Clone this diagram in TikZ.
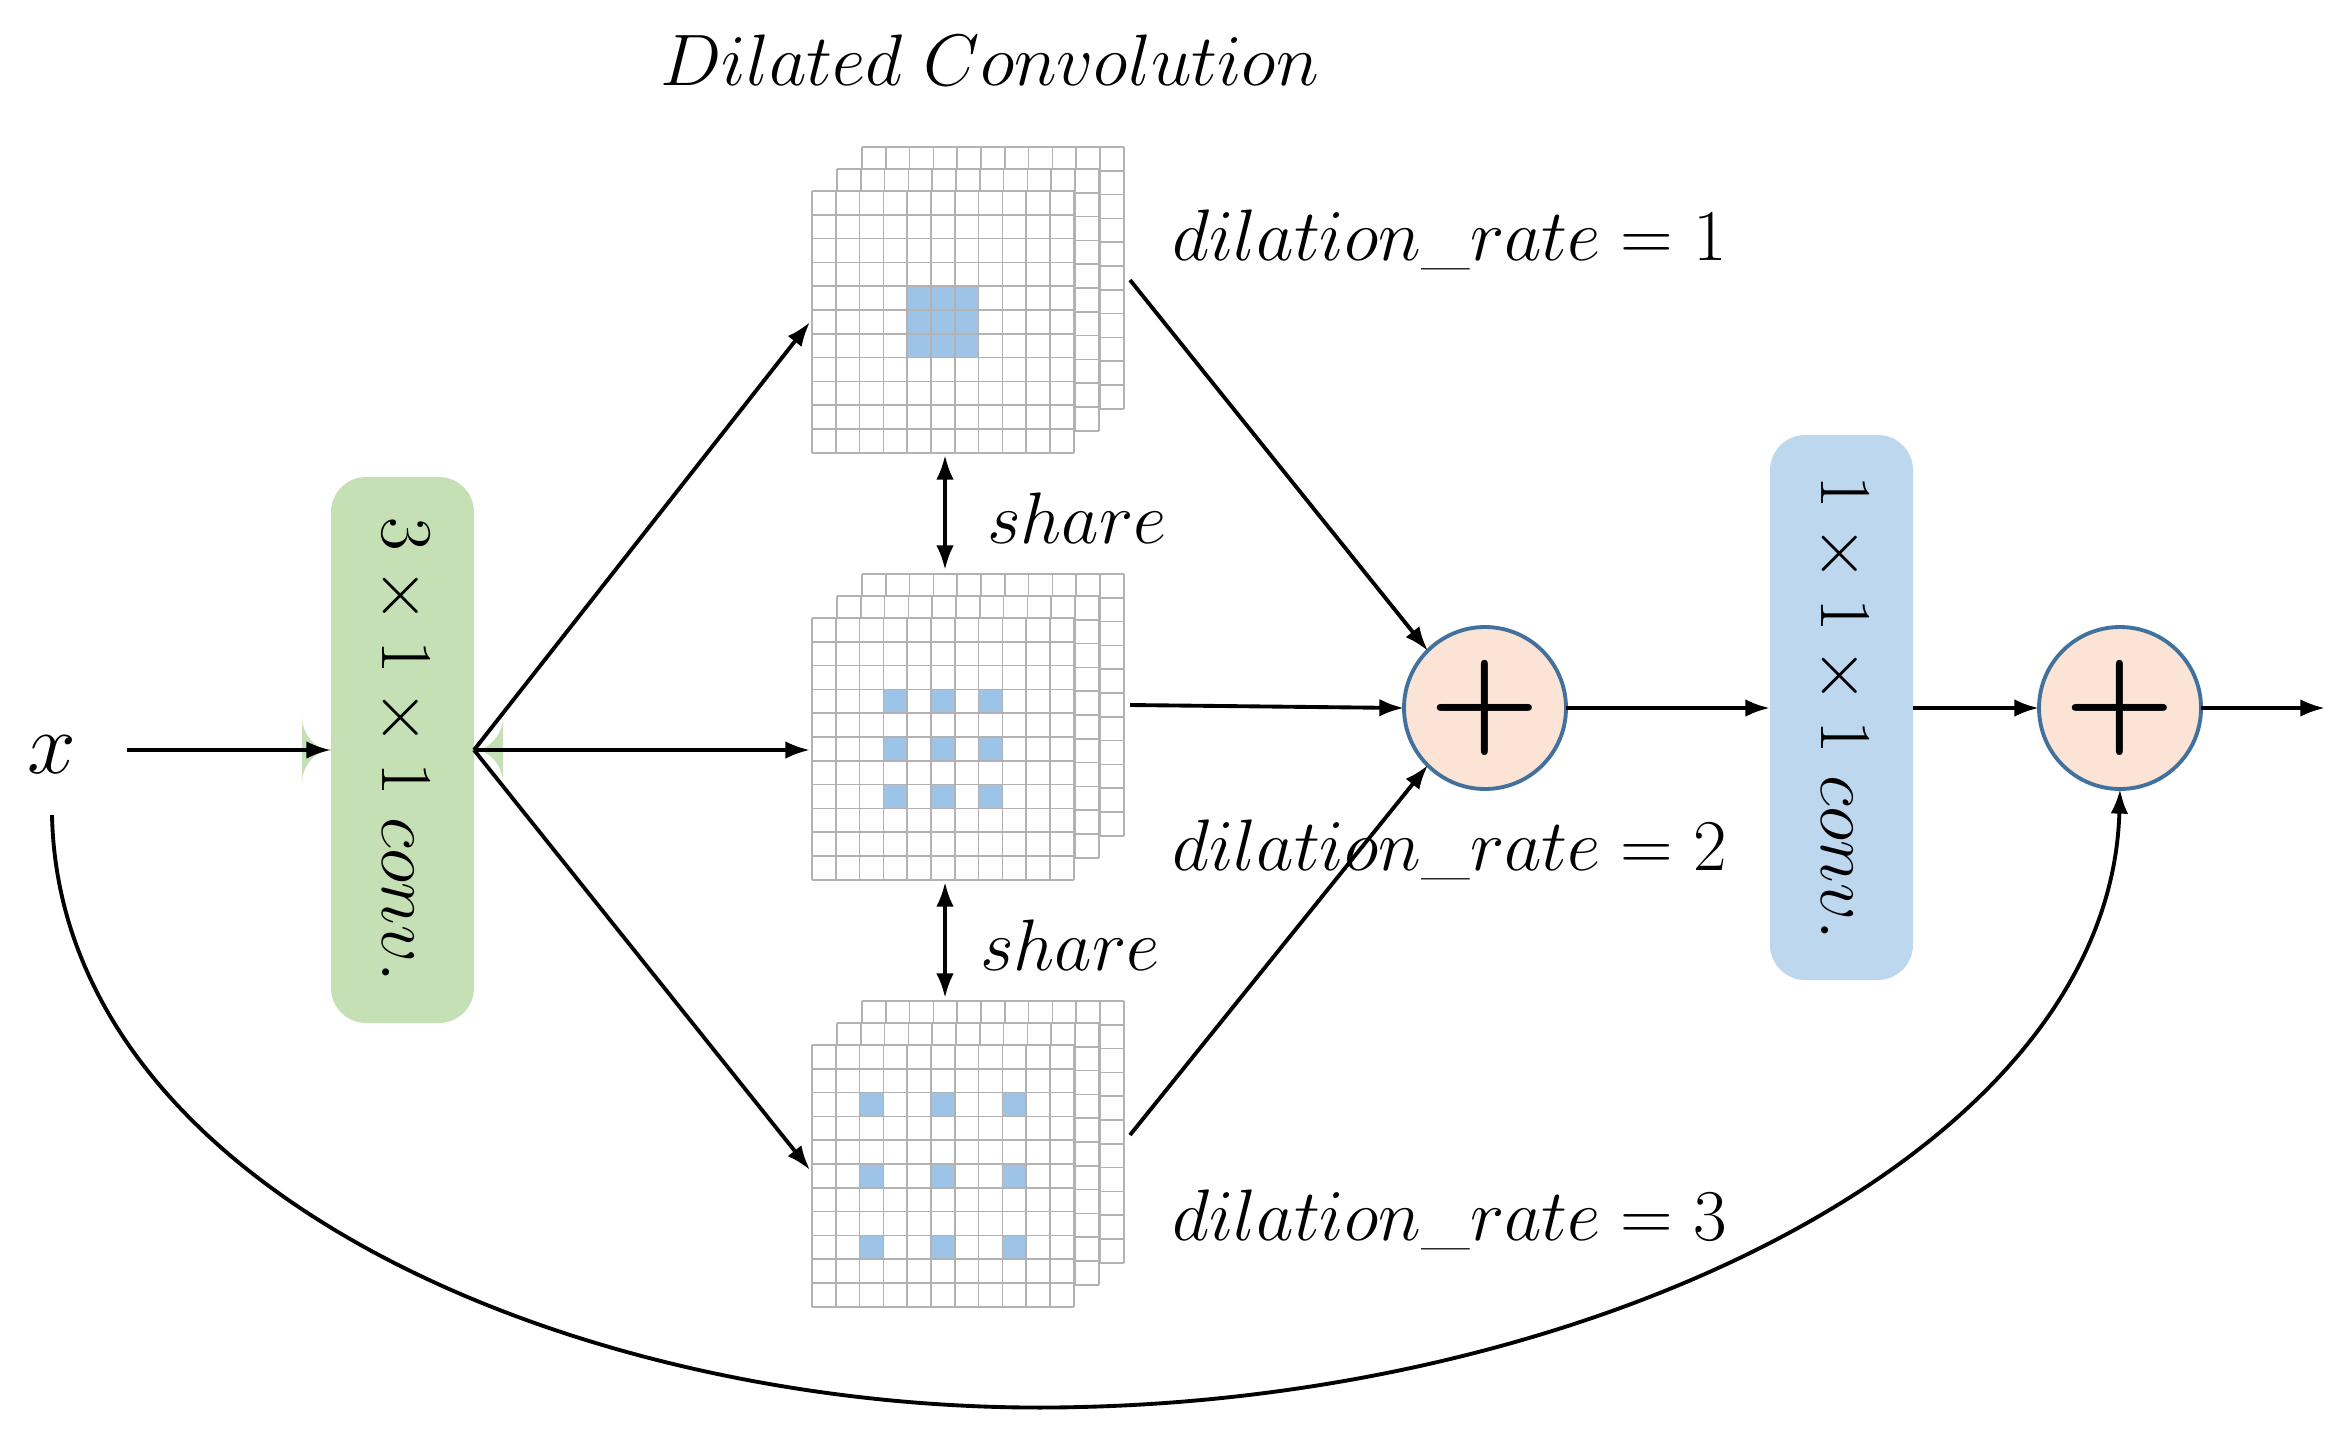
\documentclass[tikz,border=0pt]{standalone}
\usetikzlibrary{arrows.meta}
\begin{document}
\begin{tikzpicture}[x=0.01cm,y=-0.01cm,
  font=\fontsize{20}{24}\selectfont,
  arr/.style={-{Latex[length=7pt,width=5pt]},line width=1.1pt},
  cell/.style={draw=black!30,line width=0.45pt},
  blue/.style={fill=blue!40!cyan!25!white, fill=bluecell},
  circ/.style={circle,draw=circleborder,line width=1.1pt,fill=circlefill,minimum size=162\pgflinewidth}]
\definecolor{bluecell}{HTML}{9DC3E6}
\definecolor{circlefill}{HTML}{FBE3D6}
\definecolor{circleborder}{HTML}{41719C}
\definecolor{greenbox}{HTML}{C5E0B4}
\definecolor{bluebox}{HTML}{BDD7EE}
\useasboundingbox (0,0) rectangle (2343,1430);
\def\cs{23.8}
% grid stack: #1 x, #2 y, #3 list of blue cells c/r
\newcommand\gridstack[3]{%
  \foreach \k in {2,1,0}{%
    \begin{scope}[shift={(#1+25*\k,#2-22*\k)}]
      \fill[white] (0,0) rectangle (11*\cs,11*\cs);
      \ifnum\k=0 \foreach \c/\r in {#3}{\fill[bluecell] (\c*\cs,\r*\cs) rectangle ++(\cs,\cs);}\fi
      \foreach \i in {0,...,11}{\draw[cell] (\i*\cs,0) -- (\i*\cs,11*\cs); \draw[cell] (0,\i*\cs) -- (11*\cs,\i*\cs);}
    \end{scope}}}
\gridstack{812}{191}{4/4,5/4,6/4,4/5,5/5,6/5,4/6,5/6,6/6}
\gridstack{812}{618}{3/3,5/3,7/3,3/5,5/5,7/5,3/7,5/7,7/7}
\gridstack{812}{1045}{2/2,5/2,8/2,2/5,5/5,8/5,2/8,5/8,8/8}
\coordinate (g1in) at (810,322); \coordinate (g2in) at (810,750); \coordinate (g3in) at (810,1170);
\coordinate (g1out) at (1130,280); \coordinate (g2out) at (1130,705); \coordinate (g3out) at (1130,1135);
\coordinate (s1a) at (945,455); \coordinate (s1b) at (945,570);
\coordinate (s2a) at (945,882); \coordinate (s2b) at (945,998);

\node (title) at (990,60) {$Dilated\ Convolution$};
\node[anchor=west] (d1) at (1160,240) {$dilation\_rate = 1$};
\node[anchor=west] (d2) at (1160,850) {$dilation\_rate = 2$};
\node[anchor=west] (d3) at (1160,1220) {$dilation\_rate = 3$};
\node (sh1) at (1077,518) {$share$};
\node (sh2) at (1070,945) {$share$};
\node (x) at (52,755) {\fontsize{30}{34}\selectfont$x$};
\coordinate (xin) at (127,750);
\coordinate (xbot) at (52,815);
\coordinate (out) at (2325,708);

\node[fill=greenbox,rounded corners=10pt,minimum width=143\pgflinewidth,inner sep=0] (conv1) at (402.5,750) {};
\fill[greenbox,rounded corners=10pt] (331,477) rectangle (474,1023);
\node[rotate=-90] at (402.5,750) {$3\times1\times1\ conv.$};
\coordinate (c1w) at (331,750); \coordinate (c1e) at (474,750);
\fill[bluebox,rounded corners=10pt] (1770,435) rectangle (1913,980);
\node[rotate=-90] (conv2) at (1841.5,708) {$1\times1\times1\ conv.$};
\coordinate (c2w) at (1770,708); \coordinate (c2e) at (1913,708);

\node[circle,draw=circleborder,line width=1.1pt,fill=circlefill,minimum size=4.6cm*0.0354*1,inner sep=0] (p1) at (1485,708) {};
\draw[circleborder,line width=1.1pt,fill=circlefill] (1485,708) circle[radius=81];
\node (p1t) at (1485,708) {\fontsize{36}{40}\selectfont\textbf{+}};
\draw[circleborder,line width=1.1pt,fill=circlefill] (2120,708) circle[radius=81];
\node (p2t) at (2120,708) {\fontsize{36}{40}\selectfont\textbf{+}};
\coordinate (p1w) at (1404,708); \coordinate (p1e) at (1566,708);
\coordinate (p1nw) at (1428,651); \coordinate (p1sw) at (1428,765);
\coordinate (p2w) at (2039,708); \coordinate (p2e) at (2201,708); \coordinate (p2s) at (2120,789);

\draw[arr] (xin) -- (c1w);
\draw[arr] (c1e) -- (g1in);
\draw[arr] (c1e) -- (g2in);
\draw[arr] (c1e) -- (g3in);
\draw[arr] (g1out) -- (p1nw);
\draw[arr] (g2out) -- (p1w);
\draw[arr] (g3out) -- (p1sw);
\draw[arr] (p1e) -- (c2w);
\draw[arr] (c2e) -- (p2w);
\draw[arr] (p2e) -- (out);
\draw[{Latex[length=7pt,width=5pt]}-{Latex[length=7pt,width=5pt]},line width=1.1pt] (s1a) -- (s1b);
\draw[{Latex[length=7pt,width=5pt]}-{Latex[length=7pt,width=5pt]},line width=1.1pt] (s2a) -- (s2b);
\draw[arr] (xbot) .. controls (60,1200) and (600,1420) .. (1080,1407) .. controls (1600,1395) and (2110,1150) .. (p2s);
\end{tikzpicture}
\end{document}
